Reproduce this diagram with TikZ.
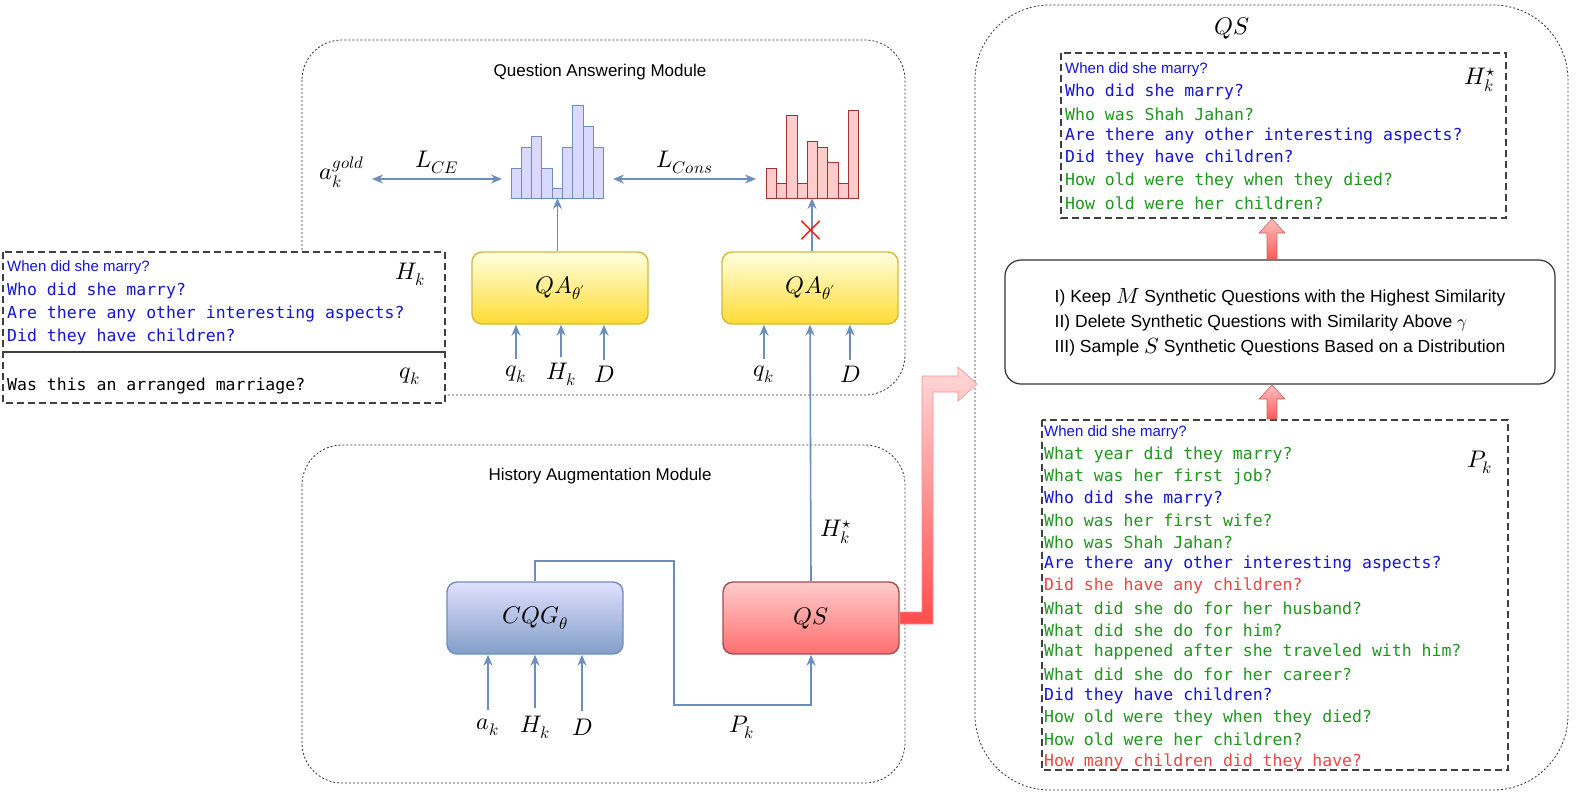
\documentclass[tikz,border=0pt]{standalone}
\usepackage{fontspec}
\setmainfont{Liberation Sans}
\newfontfamily\dmono{DejaVu Sans Mono}
\usepackage{unicode-math}
\setmathfont{Latin Modern Math}
\usetikzlibrary{arrows.meta,calc}
\definecolor{qb}{RGB}{20,20,210}
\definecolor{qg}{RGB}{30,150,30}
\definecolor{qr}{RGB}{230,70,70}
\definecolor{cn}{HTML}{6C8EBF}
\tikzset{
 mod/.style={draw=black!80,line width=0.8pt,dash pattern=on 2pt off 2pt,rounded corners=40pt},
 conn/.style={draw=cn,line width=1.6pt,-{Stealth[length=11pt,width=9pt]}},
 dconn/.style={draw=cn,line width=1.6pt,{Stealth[length=11pt,width=9pt]}-{Stealth[length=11pt,width=9pt]}},
 ml/.style={font=\fontsize{24}{24}\selectfont,inner sep=0pt},
 title/.style={font=\fontsize{17}{17}\selectfont},
 qabox/.style={draw=black!15!yellow!60!brown,line width=1.4pt,rounded corners=10pt,top color=yellow!12,bottom color=yellow!65!orange!80,minimum width=176pt,minimum height=72pt,font=\fontsize{24}{24}\selectfont},
 cqgbox/.style={draw=cn,line width=1.4pt,rounded corners=10pt,top color=blue!12,bottom color=cn!85,minimum width=176pt,minimum height=72pt,font=\fontsize{24}{24}\selectfont},
 qsbox/.style={draw=red!50!black!70,line width=1.4pt,rounded corners=10pt,top color=red!20,bottom color=red!60!white!90!pink,minimum width=176pt,minimum height=72pt,font=\fontsize{24}{24}\selectfont},
 dbox/.style={draw=black!75,line width=1.1pt,dash pattern=on 7pt off 4pt,fill=white},
 tl/.style={anchor=west,inner sep=0pt,font=\dmono\fontsize{16.5}{16.5}\selectfont},
 ts/.style={anchor=west,inner sep=0pt,font=\fontsize{15}{15}\selectfont,text=qb},
 bh/.style={draw=cn,line width=1pt,fill=blue!15},
 rh/.style={draw=red!55!black!80,line width=1pt,fill=red!20},
}
\begin{document}
\begin{tikzpicture}[x=1pt,y=-1pt]
\useasboundingbox (0,0) rectangle (1581,801);
% modules
\draw[mod] (302,40) rectangle (905,395);
\node[title] (tqa) at (600,72) {Question Answering Module};
\draw[mod] (302,445) rectangle (905,783);
\node[title] (tha) at (600,476) {History Augmentation Module};
\draw[mod,rounded corners=75pt] (975,5) rectangle (1568,790);
\node[ml] (tqs) at (1232,28) {$QS$};
% histograms
\foreach \h [count=\i from 0] in {30,51,62,30,10,51,93,72,51}
  \draw[bh] (511+\i*10.33,198) rectangle ++(10.33,-\h);
\foreach \h [count=\i from 0] in {30,15,83,15,57,51,36,15,88}
  \draw[rh] (766+\i*10.33,198) rectangle ++(10.33,-\h);
\coordinate (hb) at (557.5,198);
\coordinate (hr) at (812,198);
\coordinate (hbl) at (502,179);
\coordinate (hbr) at (613,179);
\coordinate (hrl) at (756,179);
\node[ml] (gold) at (342,172) {$a_k^{gold}$};
\coordinate (gr) at (372,179);
\draw[dconn] (gr) -- (hbl) node[midway,above=4pt,ml] (lce) {$L_{CE}$};
\draw[dconn] (hbr) -- (hrl) node[midway,above=4pt,ml] (lcons) {$L_{Cons}$};
% QA boxes
\node[qabox] (qa1) at (560,288) {$QA_{\theta'}$};
\node[qabox] (qa2) at (810,288) {$QA_{\theta'}$};
\draw[conn] (qa1.north -| hb) -- (hb);
\draw[conn] (qa2.north -| hr) -- (hr);
\node[text=red!85!orange,font=\fontsize{40}{40}\selectfont\bfseries,inner sep=0pt] (x) at (811,231) {$\boldsymbol{\times}$};
% QA inputs
\node[ml] (iq1) at (516,374) {$q_k$};
\node[ml] (ih1) at (561,374) {$H_k$};
\node[ml] (id1) at (604,374) {$D$};
\node[ml] (iq2) at (764,374) {$q_k$};
\node[ml] (id2) at (850,374) {$D$};
\foreach \n in {iq1,ih1,id1,iq2,id2}
  \draw[conn] ($(\n.north)+(0,-6)$) -- (qa1.south -| \n);
% H_k box
\draw[dbox] (3,252) rectangle (445,403);
\draw[draw=black!75,line width=1.1pt] (3,352) -- (445,352);
\node[ml] (hk) at (410,274) {$H_k$};
\node[ml] (qk) at (410,376) {$q_k$};
\node[ts] (h1) at (7,268) {When did she marry?};
\node[tl,text=qb] (h2) at (7,291) {Who did she marry?};
\node[tl,text=qb] (h3) at (7,314) {Are there any other interesting aspects?};
\node[tl,text=qb] (h4) at (7,337) {Did they have children?};
\node[tl] (q1) at (7,386) {Was this an arranged marriage?};
% History aug
\node[cqgbox] (cqg) at (535,618) {$CQG_{\theta}$};
\node[qsbox] (qs) at (811,618) {$QS$};
\node[ml] (ia) at (488,727) {$a_k$};
\node[ml] (ih) at (535,727) {$H_k$};
\node[ml] (idd) at (582,727) {$D$};
\foreach \n in {ia,ih,idd}
  \draw[conn] ($(\n.north)+(0,-8)$) -- (cqg.south -| \n);
\node[ml] (pk) at (742,727) {$P_k$};
\draw[conn] (cqg.north) |- (674,561) |- (730,705) -| (qs.south);
\draw[conn] (qs.north) -- (qa2.south);
\node[ml] (hs) at (836,532) {$H_k^{\star}$};
% red big arrow
\shade[top color=red!15,bottom color=red!70!white,draw=red!45!white,line width=0.6pt]
 (qs.east |- 0,612) -- (922,612) -- (922,376) -- (958,376) -- (958,367) -- (977,384) -- (958,401) -- (958,392) -- (933,392) -- (933,624) -- (qs.east |- 0,624) -- cycle;
% filter box
\node[draw=black!80,line width=1.2pt,rounded corners=16pt,minimum width=550pt,minimum height=124pt,align=left,font=\fontsize{17.5}{25}\selectfont] (flt) at (1280,322)
 {I) Keep \raisebox{-1pt}{\fontsize{22}{22}\selectfont$M$} Synthetic Questions with the Highest Similarity\\
  II) Delete Synthetic Questions with Similarity Above $\gamma$\\
  III) Sample \raisebox{-1pt}{\fontsize{22}{22}\selectfont$S$} Synthetic Questions Based on a Distribution};
% H* box
\draw[dbox] (1061,53) rectangle (1506,218);
\node[ml] (hsk) at (1480,80) {$H_k^{\star}$};
\node[ts] (a1) at (1065,70) {When did she marry?};
\node[tl,text=qb] (a2) at (1065,92) {Who did she marry?};
\node[tl,text=qg] (a3) at (1065,114) {Who was Shah Jahan?};
\node[tl,text=qb] (a4) at (1065,136) {Are there any other interesting aspects?};
\node[tl,text=qb] (a5) at (1065,158) {Did they have children?};
\node[tl,text=qg] (a6) at (1065,181) {How old were they when they died?};
\node[tl,text=qg] (a7) at (1065,203) {How old were her children?};
% P box
\draw[dbox] (1042,420) rectangle (1508,770);
\node[ml] (pkk) at (1480,462) {$P_k$};
\node[ts] (p1) at (1044,433) {When did she marry?};
\foreach \t/\c [count=\i] in {What year did they marry?/qg,What was her first job?/qg,Who did she marry?/qb,Who was her first wife?/qg,Who was Shah Jahan?/qg,Are there any other interesting aspects?/qb,Did she have any children?/qr,What did she do for her husband?/qg,What did she do for him?/qg,What happened after she traveled with him?/qg,What did she do for her career?/qg,Did they have children?/qb,How old were they when they died?/qg,How old were her children?/qg,How many children did they have?/qr}
  \node[tl,text=\c] (p\i x) at (1044,433+\i*21.9) {\t};
% small block arrows
\shade[top color=red!25,bottom color=red!65!white,draw=red!60!black!60,line width=0.6pt]
 (1267,259) -- (1267,233) -- (1259,233) -- (1272,219) -- (1285,233) -- (1277,233) -- (1277,259) -- cycle;
\shade[top color=red!25,bottom color=red!65!white,draw=red!60!black!60,line width=0.6pt]
 (1267,419) -- (1267,399) -- (1259,399) -- (1272,385) -- (1285,399) -- (1277,399) -- (1277,419) -- cycle;
\end{tikzpicture}
\end{document}
